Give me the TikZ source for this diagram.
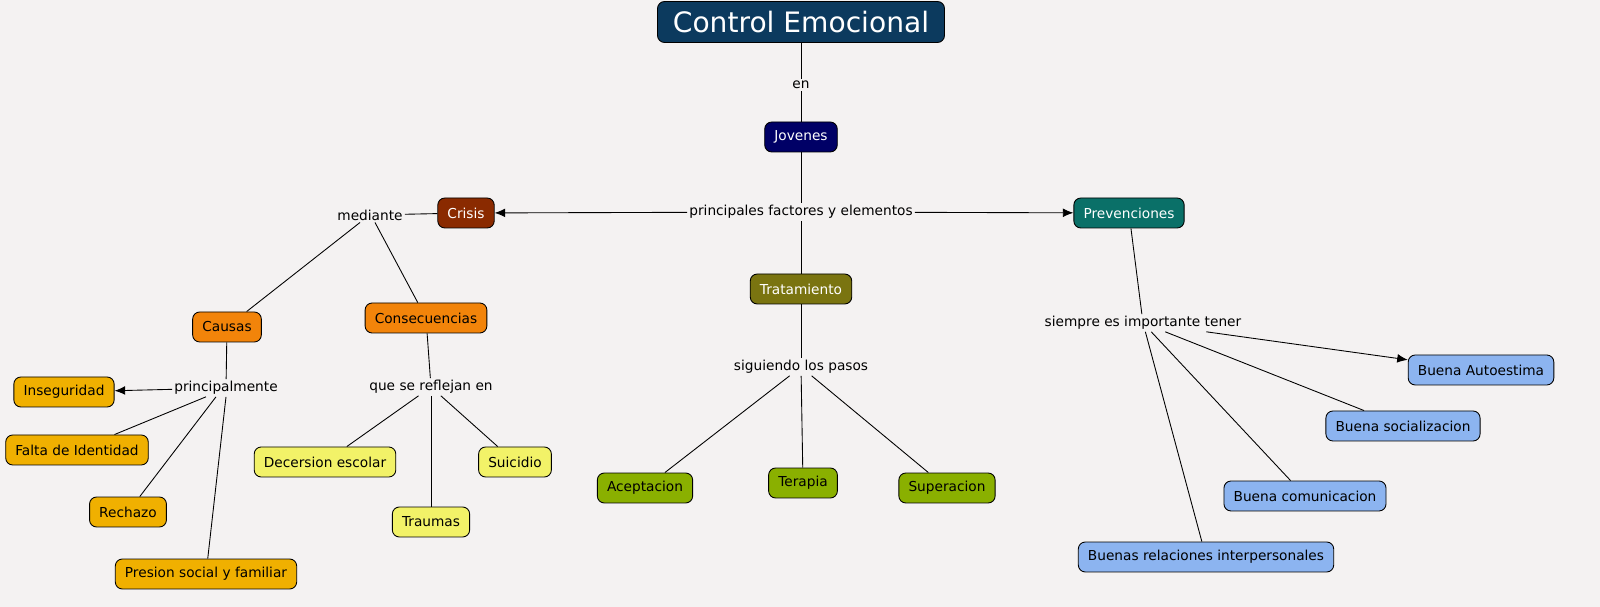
\documentclass[tikz,border=0pt]{standalone}
\usepackage{fontspec}
\setmainfont{DejaVu Sans}
\definecolor{bgcolor}{HTML}{F4F2F2}
\definecolor{titlecolor}{HTML}{0C3A5E}
\definecolor{jovcolor}{HTML}{000066}
\definecolor{crisiscolor}{HTML}{8A2A00}
\definecolor{prevcolor}{HTML}{0A7068}
\definecolor{tratcolor}{HTML}{7A7410}
\definecolor{causecolor}{HTML}{F2840A}
\definecolor{goldcolor}{HTML}{F0B000}
\definecolor{yellowcolor}{HTML}{F2F268}
\definecolor{greencolor}{HTML}{8AB000}
\definecolor{bluecolor}{HTML}{8CB4F0}
\usetikzlibrary{positioning,arrows.meta}
\tikzset{
	concept/.style={draw=black, rounded corners=4pt, inner xsep=5.5pt, inner ysep=3pt, minimum height=0.6cm, font=\fontsize{7.8}{9}\selectfont},
	linklabel/.style={fill=bgcolor, inner sep=1pt, font=\fontsize{7.8}{9}\selectfont},
	tip/.style={-{Latex[length=6pt,width=5pt]}},
}
\begin{document}
\begin{tikzpicture}[x=0.02cm, y=-0.02cm, line width=0.5pt]
	\fill [bgcolor] (0,0) rectangle (1600,607);
	\useasboundingbox (0,0) rectangle (1600,607);
	% main concepts
	\node [concept, fill=titlecolor, text=white, font=\fontsize{16}{19}\selectfont, minimum height=0.82cm, minimum width=5.74cm] (title) at (801,22) {Control Emocional};
	\node [concept, fill=jovcolor, text=white] (jov) at (801,137) {Jovenes};
	\node [concept, fill=crisiscolor, text=white] (crisis) at (466,213) {Crisis};
	\node [concept, fill=prevcolor, text=white] (prev) at (1129,213) {Prevenciones};
	\node [concept, fill=tratcolor, text=white] (trat) at (801,289) {Tratamiento};
	\node [concept, fill=causecolor] (causas) at (227,327) {Causas};
	\node [concept, fill=causecolor] (conse) at (426,318) {Consecuencias};
	\node [concept, fill=goldcolor] (inseg) at (64,392) {Inseguridad};
	\node [concept, fill=goldcolor] (falta) at (77,450) {Falta de Identidad};
	\node [concept, fill=goldcolor] (rechazo) at (128,512) {Rechazo};
	\node [concept, fill=goldcolor] (presion) at (206,574) {Presion social y familiar};
	\node [concept, fill=yellowcolor] (decer) at (325,462) {Decersion escolar};
	\node [concept, fill=yellowcolor] (suic) at (515,462) {Suicidio};
	\node [concept, fill=yellowcolor] (traumas) at (431,522) {Traumas};
	\node [concept, fill=greencolor] (acep) at (645,488) {Aceptacion};
	\node [concept, fill=greencolor] (terapia) at (803,483) {Terapia};
	\node [concept, fill=greencolor] (super) at (947,488) {Superacion};
	\node [concept, fill=bluecolor] (autoest) at (1481,370) {Buena Autoestima};
	\node [concept, fill=bluecolor] (social) at (1403,426) {Buena socializacion};
	\node [concept, fill=bluecolor] (comun) at (1305,496) {Buena comunicacion};
	\node [concept, fill=bluecolor] (relac) at (1206,557) {Buenas relaciones interpersonales};
	% linking phrases
	\node [linklabel] (en) at (801,85) {en};
	\node [linklabel] (factores) at (801,212) {principales factores y elementos};
	\node [linklabel] (mediante) at (370,215) {mediante};
	\node [linklabel] (princ) at (226,388) {principalmente};
	\node [linklabel] (reflejan) at (431,387) {que se reflejan en};
	\node [linklabel] (pasos) at (801,367) {siguiendo los pasos};
	\node [linklabel] (siempre) at (1143,323) {siempre es importante tener};
	% connectors
	\draw (title) -- (en) -- (jov) -- (factores) -- (trat) -- (pasos);
	\draw [tip] (factores) -- (crisis);
	\draw [tip] (factores) -- (prev);
	\draw (crisis) -- (mediante);
	\draw (mediante.south) ++(-10,0) -- (causas);
	\draw (mediante.south) ++(5,0) -- (conse);
	\draw (causas) -- (princ);
	\draw [tip] (princ) -- (inseg);
	\draw (princ.south) ++(-20,0) -- (falta);
	\draw (princ.south) ++(-10,0) -- (rechazo);
	\draw (princ.south) -- (presion);
	\draw (conse) -- (reflejan);
	\draw (reflejan) -- (decer);
	\draw (reflejan) -- (suic);
	\draw (reflejan) -- (traumas);
	\draw (pasos) -- (acep);
	\draw (pasos) -- (terapia);
	\draw (pasos) -- (super);
	\draw (prev) -- (siempre);
	\draw [tip] (siempre) -- (autoest);
	\draw (siempre) -- (social);
	\draw (siempre) -- (comun);
	\draw (siempre) -- (relac);
\end{tikzpicture}
\end{document}
